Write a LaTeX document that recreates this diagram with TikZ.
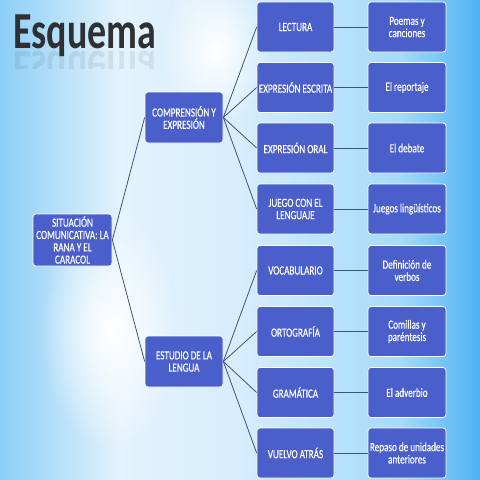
\documentclass[tikz,border=0pt]{standalone}
\usepackage{fontspec}
\usetikzlibrary{fadings}
\newfontfamily\boxfont{Carlito}[FakeStretch=0.73, FakeBold=0.35]
\newfontfamily\titlefont{Carlito}[FakeStretch=0.73]
\definecolor{boxblue}{HTML}{4B5FCB}
\definecolor{linecol}{HTML}{3F5478}
\definecolor{titlegray}{HTML}{2E3033}
\tikzfading[name=glow, inner color=transparent!0, outer color=transparent!100]
\tikzset{
  box/.style={draw=white, line width=0.7pt, fill=boxblue, rounded corners=3pt,
    text=white, font=\boxfont\fontsize{12.5}{12.3}\selectfont, align=center,
    inner sep=0pt, minimum height=50pt},
  colA/.style={box, minimum width=79pt, minimum height=52pt},
  colB/.style={box, minimum width=78pt, minimum height=51pt},
  colC/.style={box, minimum width=77pt},
  colD/.style={box, minimum width=78pt},
  link/.style={draw=linecol, line width=0.8pt},
  titletext/.style={font=\titlefont\bfseries\fontsize{52}{52}\selectfont, text=titlegray, anchor=base west, inner sep=0pt},
}
\begin{document}
\begin{tikzpicture}[x=1pt,y=-1pt]
\useasboundingbox (0,0) rectangle (480,480);
% background
\shade[left color={rgb,255:red,140;green,206;blue,246}, right color={rgb,255:red,228;green,243;blue,253}] (0,0) rectangle (120,480);
\shade[left color={rgb,255:red,228;green,243;blue,253}, right color={rgb,255:red,214;green,237;blue,252}] (120,0) rectangle (240,480);
\shade[left color={rgb,255:red,214;green,237;blue,252}, right color={rgb,255:red,165;green,219;blue,249}] (240,0) rectangle (400,480);
\shade[left color={rgb,255:red,165;green,219;blue,249}, right color={rgb,255:red,79;green,178;blue,243}] (400,0) rectangle (480,480);
\fill[white, path fading=glow] (110,330) ellipse (70 and 120);
\fill[white, path fading=glow] (215,50) ellipse (55 and 80);
% title
\node[titletext] (title) at (13,48) {Esquema};
\begin{scope}
\clip (0,50) rectangle (200,68);
\node[titletext, yscale=-1, transform shape, opacity=0.09] (titlerefl) at (13,51) {Esquema};
\end{scope}
% nodes
\node[colA] (s) at (72.5,240) {SITUACIÓN\\COMUNICATIVA: LA\\RANA Y EL\\CARACOL};
\node[colB] (c) at (184,117.5) {COMPRENSIÓN Y\\EXPRESIÓN};
\node[colB] (e) at (184,361.5) {ESTUDIO DE LA\\LENGUA};
\node[colC] (c1) at (295.5,27) {LECTURA};
\node[colC] (c2) at (295.5,87.5) {EXPRESIÓN ESCRITA};
\node[colC] (c3) at (295.5,148) {EXPRESIÓN ORAL};
\node[colC] (c4) at (295.5,209) {JUEGO CON EL\\LENGUAJE};
\node[colC] (e1) at (295.5,270.5) {VOCABULARIO};
\node[colC] (e2) at (295.5,331.5) {ORTOGRAFÍA};
\node[colC] (e3) at (295.5,392.5) {GRAMÁTICA};
\node[colC] (e4) at (295.5,453) {VUELVO ATRÁS};
\node[colD] (d1) at (407,27) {Poemas y\\canciones};
\node[colD] (d2) at (407,87.5) {El reportaje};
\node[colD] (d3) at (407,148) {El debate};
\node[colD] (d4) at (407,209) {Juegos lingüísticos};
\node[colD] (f1) at (407,270.5) {Definición de\\verbos};
\node[colD] (f2) at (407,331.5) {Comillas y\\paréntesis};
\node[colD] (f3) at (407,392.5) {El adverbio};
\node[colD] (f4) at (407,453) {Repaso de unidades\\anteriores};
% connectors
\draw[link] (s.east) -- (c.west);
\draw[link] (s.east) -- (e.west);
\foreach \n in {c1,c2,c3,c4} \draw[link] (c.east) -- (\n.west);
\foreach \n in {e1,e2,e3,e4} \draw[link] (e.east) -- (\n.west);
\draw[link] (c1.east) -- (d1.west);
\draw[link] (c2.east) -- (d2.west);
\draw[link] (c3.east) -- (d3.west);
\draw[link] (c4.east) -- (d4.west);
\draw[link] (e1.east) -- (f1.west);
\draw[link] (e2.east) -- (f2.west);
\draw[link] (e3.east) -- (f3.west);
\draw[link] (e4.east) -- (f4.west);
\end{tikzpicture}
\end{document}
